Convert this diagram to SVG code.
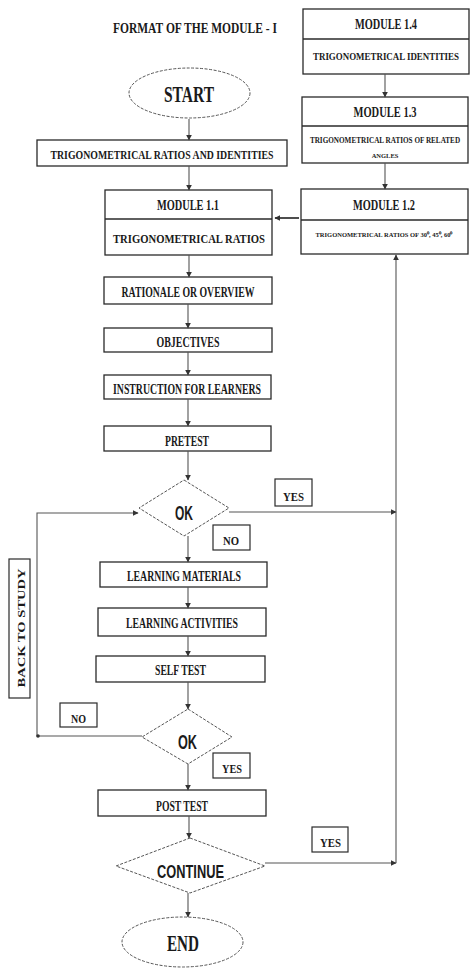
<svg xmlns="http://www.w3.org/2000/svg" width="474" height="971" viewBox="0 0 474 971">
<style>
.bg{fill:#fff}
.box{fill:#fff;stroke:#2a2a2a;stroke-width:1.3}
.lbl{fill:#fff;stroke:#2a2a2a;stroke-width:1.2}
.dash{fill:#fff;stroke:#555;stroke-width:1;stroke-dasharray:3 1.5}
.div{stroke:#2a2a2a;stroke-width:1.3}
.t{font-family:"Liberation Serif","Times New Roman",serif;font-weight:bold;fill:#1a1a1a;text-anchor:middle}
.s{font-family:"Liberation Sans",Arial,sans-serif;font-weight:bold;fill:#1a1a1a;text-anchor:middle}
.c{fill:none;stroke:#555;stroke-width:1.1}
</style>
<defs>
<marker id="ah" viewBox="0 0 10 10" refX="9" refY="5" markerWidth="6" markerHeight="6" markerUnits="userSpaceOnUse" orient="auto">
<path d="M0,0 L10,5 L0,10 z" fill="#333"/>
</marker>
</defs>
<rect class="bg" x="0" y="0" width="474" height="971"/>

<g id="title">
<text class="t" x="195" y="33" font-size="15" textLength="164" lengthAdjust="spacingAndGlyphs">FORMAT OF THE MODULE - I</text>
</g>

<g id="module14">
<rect class="box" x="303" y="9" width="166" height="65"/>
<line class="div" x1="303" y1="39" x2="469" y2="39"/>
<text class="t" x="386" y="29" font-size="14" textLength="62" lengthAdjust="spacingAndGlyphs">MODULE 1.4</text>
<text class="t" x="386" y="60" font-size="9.5" textLength="146" lengthAdjust="spacingAndGlyphs">TRIGONOMETRICAL IDENTITIES</text>
</g>

<g id="module13">
<rect class="box" x="302" y="97" width="166" height="66"/>
<line class="div" x1="302" y1="126" x2="468" y2="126"/>
<text class="t" x="385" y="117" font-size="15" textLength="63" lengthAdjust="spacingAndGlyphs">MODULE 1.3</text>
<text class="t" x="385" y="143" font-size="7.2">TRIGONOMETRICAL RATIOS OF RELATED</text>
<text class="t" x="385" y="157.5" font-size="6.5">ANGLES</text>
</g>

<g id="module12">
<rect class="box" x="301" y="189" width="167" height="65"/>
<line class="div" x1="301" y1="220" x2="468" y2="220"/>
<text class="t" x="384" y="210" font-size="15" textLength="62" lengthAdjust="spacingAndGlyphs">MODULE 1.2</text>
<text class="t" x="384" y="237" font-size="6.5">TRIGONOMETRICAL RATIOS OF 30⁰, 45⁰, 60⁰</text>
</g>

<g id="start">
<ellipse class="dash" cx="189.5" cy="93" rx="60.5" ry="25"/>
<text class="t" x="189" y="102" font-size="23" textLength="50" lengthAdjust="spacingAndGlyphs">START</text>
</g>

<g id="trig-ratios-identities">
<rect class="box" x="37" y="140" width="250" height="26"/>
<text class="t" x="162" y="159" font-size="12.5" textLength="223" lengthAdjust="spacingAndGlyphs">TRIGONOMETRICAL RATIOS AND IDENTITIES</text>
</g>

<g id="module11">
<rect class="box" x="105" y="190" width="167" height="65"/>
<line class="div" x1="105" y1="219" x2="272" y2="219"/>
<text class="t" x="188" y="210" font-size="14" textLength="62" lengthAdjust="spacingAndGlyphs">MODULE 1.1</text>
<text class="t" x="189" y="243" font-size="13" textLength="152" lengthAdjust="spacingAndGlyphs">TRIGONOMETRICAL RATIOS</text>
</g>

<g id="rationale">
<rect class="box" x="104" y="277" width="168" height="27"/>
<text class="t" x="188" y="297" font-size="14" textLength="133" lengthAdjust="spacingAndGlyphs">RATIONALE OR OVERVIEW</text>
</g>

<g id="objectives">
<rect class="box" x="104" y="328" width="168" height="24"/>
<text class="t" x="188" y="347" font-size="14" textLength="63" lengthAdjust="spacingAndGlyphs">OBJECTIVES</text>
</g>

<g id="instruction">
<rect class="box" x="104" y="375" width="167" height="24"/>
<text class="t" x="187" y="394" font-size="14" textLength="148" lengthAdjust="spacingAndGlyphs">INSTRUCTION FOR LEARNERS</text>
</g>

<g id="pretest">
<rect class="box" x="104" y="426" width="167" height="25"/>
<text class="t" x="187" y="446" font-size="14" textLength="44" lengthAdjust="spacingAndGlyphs">PRETEST</text>
</g>

<g id="ok1">
<polygon class="dash" points="184,480 229,508 184,536 139,508"/>
<text class="s" x="184" y="520" font-size="20" textLength="18" lengthAdjust="spacingAndGlyphs">OK</text>
</g>

<g id="yes1">
<rect class="lbl" x="275" y="479" width="37" height="27"/>
<text class="t" x="293.5" y="501" font-size="13" textLength="21" lengthAdjust="spacingAndGlyphs">YES</text>
</g>

<g id="no1">
<rect class="lbl" x="213" y="525" width="37" height="25"/>
<text class="t" x="231" y="545" font-size="13" textLength="16" lengthAdjust="spacingAndGlyphs">NO</text>
</g>

<g id="learning-materials">
<rect class="box" x="100" y="562" width="167" height="25"/>
<text class="t" x="184" y="581" font-size="14" textLength="114" lengthAdjust="spacingAndGlyphs">LEARNING MATERIALS</text>
</g>

<g id="learning-activities">
<rect class="box" x="98" y="608" width="168" height="28"/>
<text class="t" x="182" y="628" font-size="14" textLength="112" lengthAdjust="spacingAndGlyphs">LEARNING ACTIVITIES</text>
</g>

<g id="self-test">
<rect class="box" x="96" y="656" width="169" height="26"/>
<text class="t" x="180.5" y="675" font-size="14" textLength="51" lengthAdjust="spacingAndGlyphs">SELF TEST</text>
</g>

<g id="back-to-study">
<rect class="lbl" x="9" y="559" width="21" height="139"/>
<text class="t" transform="translate(25,628) rotate(-90)" x="0" y="0" font-size="9.5" textLength="119" lengthAdjust="spacingAndGlyphs">BACK TO STUDY</text>
</g>

<g id="no2">
<rect class="lbl" x="60" y="703" width="37" height="24"/>
<text class="t" x="78.5" y="723" font-size="13" textLength="15" lengthAdjust="spacingAndGlyphs">NO</text>
</g>

<g id="ok2">
<polygon class="dash" points="188,709 232,737 188,764 142,737"/>
<text class="s" x="187.5" y="749" font-size="20" textLength="19" lengthAdjust="spacingAndGlyphs">OK</text>
</g>

<g id="yes2">
<rect class="lbl" x="213" y="753" width="37" height="25"/>
<text class="t" x="232" y="773" font-size="13" textLength="20" lengthAdjust="spacingAndGlyphs">YES</text>
</g>

<g id="post-test">
<rect class="box" x="98" y="790" width="168" height="26"/>
<text class="t" x="182" y="811" font-size="14" textLength="52" lengthAdjust="spacingAndGlyphs">POST TEST</text>
</g>

<g id="continue">
<polygon class="dash" points="190,838 265,866 190,893 116,866"/>
<text class="s" x="190.5" y="878" font-size="19" textLength="67" lengthAdjust="spacingAndGlyphs">CONTINUE</text>
</g>

<g id="yes3">
<rect class="lbl" x="312" y="827" width="36" height="25"/>
<text class="t" x="330.5" y="847" font-size="13" textLength="21" lengthAdjust="spacingAndGlyphs">YES</text>
</g>

<g id="end">
<ellipse class="dash" cx="182.5" cy="942" rx="60.5" ry="25"/>
<text class="t" x="183" y="951" font-size="23" textLength="32" lengthAdjust="spacingAndGlyphs">END</text>
</g>

<g id="connectors">
<line class="c" x1="189" y1="119" x2="189" y2="140" marker-end="url(#ah)"/>
<line class="c" x1="189" y1="166" x2="189" y2="190" marker-end="url(#ah)"/>
<line class="c" x1="385" y1="74" x2="385" y2="97" marker-end="url(#ah)"/>
<line class="c" x1="385" y1="163" x2="385" y2="189" marker-end="url(#ah)"/>
<line class="c" x1="299" y1="218" x2="275" y2="218" marker-end="url(#ah)" style="stroke:#222;stroke-width:1.6"/>
<line class="c" x1="189" y1="255" x2="189" y2="277" marker-end="url(#ah)"/>
<line class="c" x1="188" y1="304" x2="188" y2="328" marker-end="url(#ah)"/>
<line class="c" x1="188" y1="352" x2="188" y2="375" marker-end="url(#ah)"/>
<line class="c" x1="188" y1="399" x2="188" y2="426" marker-end="url(#ah)"/>
<line class="c" x1="188" y1="451" x2="188" y2="480" marker-end="url(#ah)"/>
<line class="c" x1="188" y1="536" x2="188" y2="562" marker-end="url(#ah)"/>
<line class="c" x1="188" y1="587" x2="188" y2="608" marker-end="url(#ah)"/>
<line class="c" x1="188" y1="636" x2="188" y2="656" marker-end="url(#ah)"/>
<line class="c" x1="188" y1="682" x2="188" y2="709" marker-end="url(#ah)"/>
<line class="c" x1="188" y1="764" x2="188" y2="790" marker-end="url(#ah)"/>
<line class="c" x1="189" y1="816" x2="189" y2="838" marker-end="url(#ah)"/>
<line class="c" x1="188" y1="893" x2="188" y2="917" marker-end="url(#ah)"/>
<line class="c" x1="229" y1="512" x2="396" y2="512" marker-end="url(#ah)"/>
<line class="c" x1="265" y1="863" x2="396" y2="863" marker-end="url(#ah)"/>
<line class="c" x1="396" y1="863" x2="396" y2="255" marker-end="url(#ah)"/>
<polyline class="c" points="142,736 37,736 37,513 138,513" marker-end="url(#ah)"/>
<circle cx="38" cy="736" r="1.8" fill="#333"/>
</g>
</svg>
